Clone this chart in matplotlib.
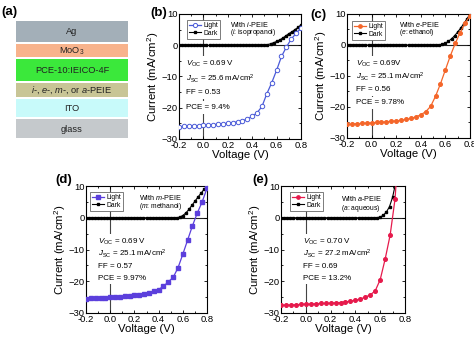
import matplotlib
matplotlib.use('Agg')
import matplotlib.pyplot as plt
from matplotlib.patches import Rectangle
from matplotlib.lines import Line2D
from matplotlib.ticker import MultipleLocator

plt.rcParams['font.family'] = ['Liberation Sans', 'DejaVu Sans']
plt.rcParams['mathtext.fontset'] = 'custom'
plt.rcParams['mathtext.rm'] = 'Liberation Sans'
plt.rcParams['mathtext.it'] = 'Liberation Sans:italic'
plt.rcParams['mathtext.bf'] = 'Liberation Sans:bold'

W, H = 474, 337

# ---------------- data ----------------
layer_names = ["Ag", "MoO$_3$", "PCE-10:IEICO-4F",
               "$\\it{i}$-, $\\it{e}$-, $\\it{m}$-, or $\\it{a}$-PEIE", "ITO", "glass"]
layer_colors = ["#a3afb8", "#f8b38c", "#3be83b", "#c8c596", "#c8fafa", "#c5c9cc"]

v_light = [-0.2, -0.16, -0.12, -0.08, -0.04, 0.0, 0.04, 0.08, 0.12, 0.16, 0.2, 0.24, 0.28,
           0.32, 0.36, 0.4, 0.44, 0.48, 0.52, 0.56, 0.6, 0.64, 0.68, 0.72, 0.76, 0.8]
v_dark = [-0.2, -0.175, -0.15, -0.125, -0.1, -0.075, -0.05, -0.025, 0.0, 0.025, 0.05, 0.075,
          0.1, 0.125, 0.15, 0.175, 0.2, 0.225, 0.25, 0.275, 0.3, 0.325, 0.35, 0.375, 0.4,
          0.425, 0.45, 0.475, 0.5, 0.525, 0.55, 0.575, 0.6, 0.625, 0.65, 0.675, 0.7, 0.725,
          0.75, 0.775, 0.8]

j_light_b = [-26.1, -26.0, -25.9, -25.8, -25.7, -25.6, -25.5, -25.4, -25.3, -25.1, -25.0, -24.8,
             -24.5, -24.2, -23.6, -22.8, -21.6, -19.6, -15.5, -12.0, -8.0, -3.6, -0.6, 2.0, 3.8, 5.5]
j_dark_b = [0.0] * 28 + [0.05, 0.2, 0.45, 0.8, 1.2, 1.7, 2.3, 3.0, 3.7, 4.3, 5.0, 5.7, 6.5]

j_light_c = [-25.6, -25.5, -25.4, -25.3, -25.2, -25.1, -25.0, -24.9, -24.8, -24.6, -24.5, -24.3,
             -24.0, -23.7, -23.2, -22.5, -21.5, -19.8, -16.5, -12.5, -8.0, -3.5, 0.5, 4.0, 7.0, 9.5]
j_dark_c = [0.0] * 30 + [0.05, 0.2, 0.6, 1.2, 2.0, 3.0, 4.2, 5.5, 6.9, 8.4, 10.0]

j_light_d = [-25.5, -25.4, -25.3, -25.3, -25.2, -25.1, -25.0, -24.9, -24.7, -24.6, -24.4, -24.2,
             -23.9, -23.6, -23.2, -22.6, -21.6, -20.2, -18.8, -15.8, -11.5, -7.0, -2.5, 1.5, 5.0, 9.3]
j_dark_d = [0.0] * 31 + [0.2, 0.7, 1.5, 2.6, 3.9, 5.2, 6.5, 7.7, 8.9, 10.0]

j_light_e = [-27.6, -27.5, -27.5, -27.4, -27.3, -27.2, -27.2, -27.1, -27.0, -27.0, -26.9, -26.8,
             -26.7, -26.5, -26.3, -26.0, -25.6, -25.0, -24.3, -23.0, -19.5, -13.0, -5.5, 6.0, 30.0, 60.0]
j_dark_e = [0.0] * 31 + [0.05, 0.2, 0.8, 1.8, 3.5, 6.5, 11.0, 16.0, 22.0, 28.0]

x_ticks = [-0.2, 0.0, 0.2, 0.4, 0.6, 0.8]
y_ticks = [-30, -20, -10, 0, 10]

panel_labels = ["(b)", "(c)", "(d)", "(e)"]
light_colors = ["#4a5ad8", "#f4662a", "#5b3fdc", "#e61a4c"]
params = [("0.69 V", "25.6", "0.53", "9.4%"),
          ("0.69V", "25.1", "0.56", "9.78%"),
          ("0.69 V", "25.1", "0.57", "9.97%"),
          ("0.70 V", "27.2", "0.69", "13.2%")]
with_text = [("With $\\it{i}$-PEIE", "($\\it{i}$: isopropanol)"),
             ("With $\\it{e}$-PEIE", "($\\it{e}$: ethanol)"),
             ("With $\\it{m}$-PEIE", "($\\it{m}$: methanol)"),
             ("With $\\it{a}$-PEIE", "($\\it{a}$: aqueous)")]
j_lights = [j_light_b, j_light_c, j_light_d, j_light_e]
j_darks = [j_dark_b, j_dark_c, j_dark_d, j_dark_e]

# ---------------- layout ----------------
fig = plt.figure(figsize=(W / 100, H / 100), dpi=100)

# panel (a): device stack
axa = fig.add_axes([0, 0, 1, 1], zorder=0)
axa.set_xlim(0, W)
axa.set_ylim(H, 0)
axa.axis('off')
layer_y = [(21, 42), (44, 57), (59, 81), (83, 97), (99, 117), (119, 138)]
for name, col, (y0, y1) in zip(layer_names, layer_colors, layer_y):
    axa.add_patch(Rectangle((16, y0), 112, y1 - y0, facecolor=col, edgecolor='none'))
    axa.text(72, (y0 + y1) / 2 + 0.5, name, ha='center', va='center', fontsize=6.7,
             color='#222222')
axa.text(1, 12, "(a)", ha='left', va='center', fontsize=9.5, fontweight='bold')

rects = [(179, 14, 301, 139), (347, 14, 470, 138), (86, 186, 207, 313), (281, 186, 405, 313)]
label_pos = [(150, 13), (310, 15), (55, 180), (252, 180)]
ann_pos = [(186, 64, 14.5), (356, 64, 13.0), (98, 242, 12.0), (303, 242, 12.0)]
with_pos = [(230, 24.5, 33), (399, 24.5, 33), (139, 197.5, 207), (341, 198.5, 208)]
leg_pos = [(187, 20), (352, 21), (90, 192), (290, 192)]

for k in range(4):
    x0, y0, x1, y1 = rects[k]
    ax = fig.add_axes([x0 / W, 1 - y1 / H, (x1 - x0) / W, (y1 - y0) / H], zorder=2)

    def fx(px):
        return (px - x0) / (x1 - x0)

    def fy(py):
        return (y1 - py) / (y1 - y0)

    col = light_colors[k]
    ax.axhline(0, color='#222222', lw=0.8, zorder=1)
    ax.axvline(0, color='#444444', lw=0.8, zorder=1)
    ax.plot(v_dark, j_darks[k], color='black', lw=0.8, marker='s', ms=2.0,
            mec='black', mfc='black', zorder=3)
    if k == 0:
        ax.plot(v_light, j_lights[k], color=col, lw=0.9, marker='o', ms=3.2,
                mfc='white', mec=col, mew=0.7, zorder=4)
        lh = Line2D([], [], color=col, lw=0.9, marker='o', ms=3.0, mfc='white', mec=col, mew=0.7)
    else:
        ax.plot(v_light, j_lights[k], color=col, lw=0.9, marker='o' if k in (1, 3) else 's',
                ms=2.6, mfc=col, mec=col, zorder=4)
        lh = Line2D([], [], color=col, lw=0.9, marker='o' if k in (1, 3) else 's', ms=2.4,
                    mfc=col, mec=col)
    dh = Line2D([], [], color='black', lw=0.8, marker='s', ms=2.0)
    ax.set_xlim(-0.2, 0.8)
    ax.set_ylim(-30, 10)
    ax.set_xticks(x_ticks)
    ax.set_xticklabels([f"{t:.1f}" for t in x_ticks])
    ax.set_yticks(y_ticks)
    ax.xaxis.set_minor_locator(MultipleLocator(0.1))
    ax.yaxis.set_minor_locator(MultipleLocator(5))
    ax.tick_params(which='both', direction='in', top=True, right=True, labelsize=6.8,
                   width=0.6)
    ax.tick_params(axis='x', pad=1.5)
    ax.tick_params(axis='y', pad=1.0)
    ax.tick_params(which='major', length=2.5)
    ax.tick_params(which='minor', length=1.5)
    for s in ax.spines.values():
        s.set_linewidth(0.8)
    ax.set_xlabel("Voltage (V)", fontsize=8.2, labelpad=0.3)
    ax.set_ylabel("Current (mA/cm$^2$)", fontsize=8.2, labelpad=0.3)

    leg = ax.legend([lh, dh], ["Light", "Dark"], loc='upper left',
                    bbox_to_anchor=(fx(leg_pos[k][0]), fy(leg_pos[k][1])), borderaxespad=0,
                    fontsize=4.9, handlelength=1.8, handletextpad=0.3, labelspacing=0.1,
                    borderpad=0.3, frameon=True, fancybox=False, framealpha=1,
                    edgecolor='#666666')
    leg.get_frame().set_linewidth(0.6)
    leg.set_zorder(6)

    wx, wy1, wy2 = with_pos[k]
    ax.text(fx(wx), fy(wy1), with_text[k][0], transform=ax.transAxes, fontsize=5.2,
            ha='left', va='center', zorder=7)
    ax.text(fx(wx), fy(wy2), with_text[k][1], transform=ax.transAxes, fontsize=4.9,
            ha='left', va='center', zorder=7)

    vo, js, ff, pce = params[k]
    lines = ["$V_{\\rm OC}$ = " + vo, "$J_{\\rm SC}$ = " + js + " mA/cm$^2$",
             "FF = " + ff, "PCE = " + pce]
    ax_, ay_, dy = ann_pos[k]
    for i, t in enumerate(lines):
        ax.text(fx(ax_), fy(ay_ + i * dy), t, transform=ax.transAxes, fontsize=5.8,
                ha='left', va='center', zorder=7,
                bbox=dict(facecolor='white', edgecolor='none', pad=2.0))

    lx, ly = label_pos[k]
    fig.text(lx / W, 1 - ly / H, panel_labels[k], fontsize=9.5, fontweight='bold',
             ha='left', va='center')

fig.savefig("out.png", dpi=100, facecolor='white')
